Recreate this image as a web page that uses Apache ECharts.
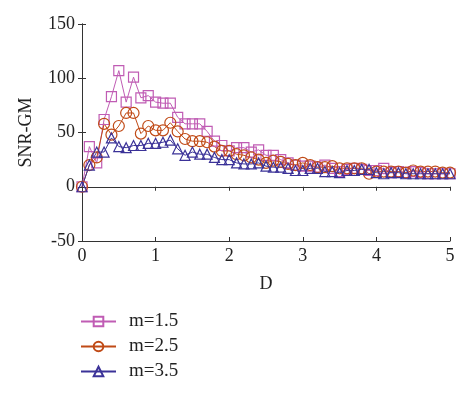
<!DOCTYPE html>
<html>
<head>
<meta charset="utf-8">
<script src="https://cdn.jsdelivr.net/npm/echarts@6/dist/echarts.min.js"></script>
<style>
  html, body { margin: 0; padding: 0; background: #fff; }
  #chart { width: 474px; height: 397px; }
</style>
</head>
<body>
<div id="chart"></div>
<script>
// D from 0 to 5, step 0.1
const dValues = [0, 0.1, 0.2, 0.3, 0.4, 0.5, 0.6, 0.7, 0.8, 0.9, 1.0,
  1.1, 1.2, 1.3, 1.4, 1.5, 1.6, 1.7, 1.8, 1.9, 2.0,
  2.1, 2.2, 2.3, 2.4, 2.5, 2.6, 2.7, 2.8, 2.9, 3.0,
  3.1, 3.2, 3.3, 3.4, 3.5, 3.6, 3.7, 3.8, 3.9, 4.0,
  4.1, 4.2, 4.3, 4.4, 4.5, 4.6, 4.7, 4.8, 4.9, 5.0];

const m15 = [0, 37, 22, 62, 83, 107, 78, 101, 82, 84, 78,
  77, 77, 64, 58, 58, 58, 51, 42, 38, 33,
  36, 36, 32, 34, 29, 29, 25, 22, 20, 19,
  19, 18, 20, 17, 14, 16, 17, 16, 15, 15,
  17, 13, 14, 13, 14, 13, 12, 12, 12, 12];

const m25 = [0, 20, 27, 58, 48, 56, 68, 68, 49, 56, 52,
  52, 59, 51, 44, 42, 42, 41, 37, 33, 33,
  30, 29, 27, 25, 22, 24, 23, 21, 20, 22,
  20, 18, 18, 19, 17, 17, 17, 17, 12, 14,
  14, 14, 14, 13, 15, 14, 14, 14, 13, 13];

const m35 = [0, 20, 32, 32, 45, 37, 36, 38, 38, 40, 40,
  41, 43, 35, 29, 32, 30, 30, 27, 25, 25,
  22, 21, 21, 22, 19, 18, 18, 17, 15, 15,
  17, 17, 14, 14, 13, 15, 15, 16, 16, 13,
  12, 13, 13, 12, 12, 12, 12, 12, 12, 12];

const seriesNames = ['m=1.5', 'm=2.5', 'm=3.5'];
const seriesColors = ['#c05cb4', '#c04a16', '#3b3298'];
const seriesSymbols = ['rect', 'circle', 'triangle'];

const font = 'Liberation Serif';
const chart = echarts.init(document.getElementById('chart'));

function pairs(ys) {
  return dValues.map((d, i) => [d, ys[i]]);
}

const boxAxis = {
  axisLine: { show: true, lineStyle: { color: '#333', width: 1 } },
  axisTick: { show: true, inside: true, length: 4, lineStyle: { color: '#333' } },
  axisLabel: { show: false },
  splitLine: { show: false }
};

chart.setOption({
  animation: false,
  backgroundColor: '#fff',
  grid: { left: 82, right: 24, top: 24, bottom: 156 },
  legend: {
    orient: 'vertical',
    left: 80, top: 312, padding: 0,
    itemWidth: 35, itemHeight: 12,
    itemGap: 6,
    textStyle: { fontFamily: font, fontSize: 19, color: '#222', padding: [0, 0, 0, 8] },
    data: seriesNames
  },
  xAxis: [{
    type: 'value', min: 0, max: 5, interval: 1,
    name: 'D', nameLocation: 'middle', nameGap: 34,
    nameTextStyle: { fontFamily: font, fontSize: 18, color: '#222' },
    axisLine: { show: true, onZero: false, lineStyle: { color: '#333', width: 1 } },
    axisTick: { show: true, inside: true, length: 4, lineStyle: { color: '#333' } },
    axisLabel: { fontFamily: font, fontSize: 18, color: '#222', margin: 6 },
    splitLine: { show: false }
  }, Object.assign({ type: 'value', position: 'top', min: 0, max: 5, interval: 1 }, boxAxis)],
  yAxis: [{
    type: 'value', min: -50, max: 150, interval: 50,
    name: 'SNR-GM', nameLocation: 'middle', nameGap: 47,
    nameTextStyle: { fontFamily: font, fontSize: 18, color: '#222' },
    axisLine: { show: true, onZero: false, lineStyle: { color: '#333', width: 1 } },
    axisTick: { show: true, inside: true, length: 4, lineStyle: { color: '#333' } },
    axisLabel: { fontFamily: font, fontSize: 18, color: '#222', margin: 7 },
    splitLine: { show: false }
  }, Object.assign({ type: 'value', position: 'right', min: -50, max: 150, interval: 50 }, boxAxis)],
  series: [m15, m25, m35].map((ys, i) => ({
    name: seriesNames[i],
    type: 'line',
    data: pairs(ys),
    symbol: seriesSymbols[i],
    symbolSize: i === 1 ? 11 : 10,
    showAllSymbol: true,
    lineStyle: { color: seriesColors[i], width: 1 },
    itemStyle: { color: 'transparent', borderColor: seriesColors[i], borderWidth: 1.2 }
  }))
});
</script>
</body>
</html>
